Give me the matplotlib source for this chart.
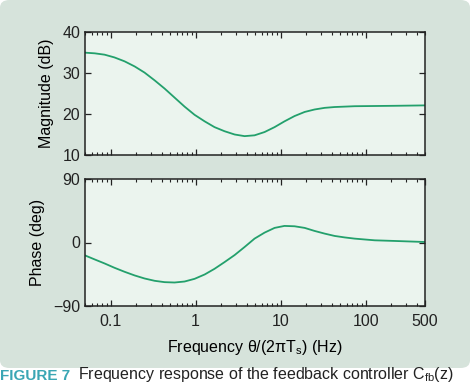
import numpy as np
import matplotlib.pyplot as plt
from matplotlib.patches import FancyBboxPatch
from matplotlib.ticker import FixedLocator, LogLocator, NullFormatter

# Datos
freq = [0.05, 0.065, 0.085, 0.111, 0.146, 0.192, 0.251, 0.33, 0.432, 0.566,
        0.742, 0.973, 1.28, 1.67, 2.19, 2.88, 3.77, 4.94, 6.48, 8.5, 11.1,
        14.6, 19.2, 25.1, 33, 43.2, 56.7, 74.3, 128, 219, 500]
mag = [34.96, 34.8, 34.47, 33.8, 32.85, 31.6, 30.1, 28.2, 26.2, 24.0, 21.8,
       19.8, 18.2, 16.8, 15.8, 15.0, 14.6, 14.8, 15.6, 16.8, 18.2, 19.5, 20.5,
       21.1, 21.5, 21.7, 21.8, 21.9, 21.95, 22.0, 22.1]
phase = [-18.3, -24, -29.7, -35.8, -41.5, -46.7, -51, -54.3, -56.2, -56.7,
         -55.3, -51.5, -45.3, -37.3, -27.8, -17.8, -6.4, 5.5, 14, 20.7, 23.5,
         23, 20.7, 16.4, 12.6, 9.3, 7.2, 5.5, 3.1, 2.2, 0.7]

mag_ticks = [10, 20, 30, 40]
ph_ticks = [-90, 0, 90]
ph_labels = ['\u221290', '0', '90']
x_ticks = [0.1, 1, 10, 100, 500]
x_labels = ['0.1', '1', '10', '100', '500']

plt.rcParams['font.family'] = ['Liberation Sans', 'DejaVu Sans']
plt.rcParams['font.size'] = 11.5

panel_col = '#d6e3db'
ax_col = '#ebf4ee'
line_col = '#23a06c'
W, H = 474, 384

fig = plt.figure(figsize=(W / 100, H / 100), dpi=100)
fig.patch.set_facecolor('white')
panel = FancyBboxPatch((0, 16 / H), 470 / W, 1 - 16 / H,
                       boxstyle='round,pad=0,rounding_size=0.02',
                       transform=fig.transFigure, facecolor=panel_col,
                       edgecolor='none', zorder=-1)
fig.patches.append(panel)

def box(l, t, r, b):
    return [l / W, 1 - b / H, (r - l) / W, (b - t) / H]

ax1 = fig.add_axes(box(85, 32, 425, 155))
ax2 = fig.add_axes(box(85, 179, 425, 306))

ax1.plot(freq, mag, color=line_col, lw=1.3, solid_joinstyle='round')
ax2.plot(freq, phase, color=line_col, lw=1.3, solid_joinstyle='round')

for ax in (ax1, ax2):
    ax.set_facecolor(ax_col)
    ax.set_xscale('log')
    ax.set_xlim(0.05, 500)
    ax.xaxis.set_major_locator(FixedLocator([0.1, 1, 10, 100]))
    ax.xaxis.set_minor_locator(LogLocator(base=10, subs=np.arange(2, 10)))
    ax.xaxis.set_minor_formatter(NullFormatter())
    ax.tick_params(which='both', direction='in', top=True, right=True,
                   colors='#222222', labelcolor='#222222')
    ax.tick_params(which='major', length=4, width=0.9)
    ax.tick_params(which='minor', length=2, width=0.8)
    for s in ax.spines.values():
        s.set_linewidth(1.1)
        s.set_color('#222222')

ax1.set_ylim(10, 40)
ax1.set_yticks(mag_ticks)
ax1.set_xticklabels([])
ax1.set_ylabel('Magnitude (dB)', labelpad=6)

ax2.set_ylim(-90, 90)
ax2.set_yticks(ph_ticks)
ax2.set_yticklabels(ph_labels)
ax2.set_xticks(x_ticks)
ax2.set_xticklabels(x_labels)
ax2.tick_params(axis='x', pad=6)
ax2.set_ylabel('Phase (deg)', labelpad=6)
ax2.set_xlabel('Frequency \u03b8/(2\u03c0T$_\\mathregular{s}$) (Hz)', labelpad=6)

fig.text(0 / W, 0.5 / H, 'FIGURE 7', color='#3aa6b4', fontweight='bold',
         fontsize=11, va='bottom')
fig.text(78 / W, 0.5 / H, 'Frequency response of the feedback controller C$_\\mathregular{fb}$(z)',
         color='#222222', fontsize=11.5, va='bottom')

fig.savefig('out.png', dpi=100)
